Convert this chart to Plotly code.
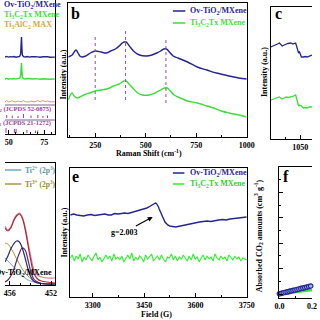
import numpy as np
import plotly.graph_objects as go

W = H = 320
def px(x): return x / W
def py(y): return 1 - y / H

NAVY = "#25258f"
GREEN = "#3ddc3d"
ORANGE = "#d9a441"
PURPLE = "#9b3f9b"
SERIF = "Liberation Serif"

# ---------------- Panel a: XRD ----------------
xrd_2theta = [47.3, 48.5, 49.8, 51.0, 52.4, 53.6, 55.0, 56.5, 57.6, 58.3, 58.6, 58.9, 59.2, 59.5,
              60.3, 61.5, 63.0, 64.5, 65.6, 67.0, 68.5, 70.4, 72.0, 74.0, 75.5, 77.2, 79.0, 80.8, 82.4]
xrd_ov = [77.0, 77.6, 76.9, 77.4, 77.1, 77.5, 76.8, 77.3, 77.6, 80.0, 88.0, 97.0, 86.0, 79.0,
          77.4, 77.0, 77.5, 76.9, 77.3, 77.0, 77.4, 77.1, 76.8, 77.3, 76.9, 77.2, 76.8, 77.1, 76.9]
xrd_mx = [55.0, 55.7, 54.8, 55.4, 55.0, 55.5, 54.9, 55.3, 55.8, 58.0, 65.0, 71.0, 64.0, 57.0,
          55.4, 55.0, 55.5, 54.9, 55.2, 55.0, 55.4, 55.1, 54.8, 55.2, 54.9, 55.1, 54.8, 55.0, 54.9]
xrd_max = [32.0, 33.5, 32.2, 32.4, 33.4, 32.2, 32.1, 33.0, 32.3, 32.2, 32.4, 32.3, 32.2, 32.4,
           33.6, 32.3, 32.2, 32.1, 33.0, 32.2, 32.3, 33.4, 32.2, 33.6, 32.2, 33.0, 32.2, 32.1, 32.3]
ref_max_pos = [48.5, 52.4, 56.5, 60.3, 65.6, 70.4, 74.0, 77.2]
ref_max_h = [3.0, 2.5, 2.0, 4.0, 2.5, 3.0, 2.0, 2.5]
ref_max_base = 16
ref_tio2_pos = [48.0, 53.9, 55.1, 62.7, 68.8, 70.3, 75.0, 82.7]
ref_tio2_h = [5.0, 4.0, 4.0, 3.0, 2.5, 2.5, 3.0, 2.0]
ref_tio2_base = 1

# ---------------- Panel b: Raman ----------------
raman_ov_x = [117, 136, 146, 155, 165, 174, 184, 203, 227, 250, 279, 303, 327, 350, 369, 384, 393, 403,
              412, 427, 445, 469, 503, 531, 555, 574, 589, 603, 617, 636, 660, 707, 755, 803, 850, 912, 960, 1000]
raman_ov_y = [80, 82, 85, 87, 84, 81, 80, 81, 84, 86, 85, 84, 86, 88, 91, 94, 95, 95,
              93, 89, 85, 82, 81, 82, 84, 86, 88, 88, 85, 81, 79, 75, 70, 67, 64, 61, 59, 58]
raman_mx_x = [117, 127, 136, 146, 160, 174, 193, 222, 250, 279, 307, 341, 369, 384, 393, 403, 417, 436,
              460, 484, 517, 546, 574, 593, 607, 622, 641, 660, 707, 755, 803, 836, 874, 912, 960, 1000]
raman_mx_y = [37, 42, 44, 41, 39, 40, 42, 44, 46, 47, 48, 51, 53, 55, 56, 56, 53, 49,
              44, 42, 42, 44, 47, 49, 49, 46, 42, 40, 36, 34, 31, 29, 26, 24, 22, 20]
raman_marks = [250, 400, 600]

# ---------------- Panel c ----------------
c_x = [1000, 1004.9, 1008.1, 1011.4, 1014.7, 1017.9, 1019.5, 1022.8, 1026.0, 1029.3, 1034.2, 1037.4,
       1042.3, 1044.0, 1045.6, 1047.2, 1048.8, 1050.5, 1052.1, 1055.4, 1058.6, 1061.9, 1065.1, 1070]
c_ov = [92, 93, 94, 95, 96, 94, 93, 94, 95, 95.5, 96, 95, 96, 92, 89, 86, 87, 85, 82, 82, 82.5, 82, 83, 84]
c_mx = [39, 40, 40.5, 41.5, 42, 40.5, 40, 41, 42, 41.5, 42, 42.5, 44, 39, 36, 33, 34, 33.5, 33, 31, 31.5, 31, 32, 32]

# ---------------- Panel d: XPS Ti 2p ----------------
d_be = [456.47, 456.19, 455.91, 455.63, 455.35, 455.07, 454.80, 454.52, 454.24, 453.96, 453.68,
        453.31, 452.94, 452.38, 451.63]
d_raw = [59, 55, 58, 65, 70, 72, 68, 58, 43, 28, 16, 10, 8, 7, 7]
d_env = [57, 54, 57, 64, 69, 71, 67, 56, 40, 24, 12, 6, 4, 3, 2]
d_navy = [23, 29, 36, 41, 44, 43, 37, 27, 16, 8, 4, 2, 1.5, 1, 1]
d_purple = [3, 5, 9, 15, 24, 32, 37, 35, 25, 13, 6, 3, 1.5, 1, 1]
d_ti3 = [42, 41, 37, 32, 26, 21, 16, 12, 9, 6, 4, 2.5, 1.5, 1, 1]
d_ti2 = [27, 24, 21, 18, 15, 12, 9, 7, 5, 4, 3, 2, 1.5, 1, 1]

# ---------------- Panel e: EPR ----------------
epr_ov_field = [3234, 3244, 3253, 3263, 3273, 3284, 3295, 3305, 3315, 3325, 3335, 3345, 3354, 3364, 3374,
                3384, 3393, 3403, 3413, 3422, 3430, 3437, 3444, 3451, 3458, 3464, 3469, 3473, 3477, 3480,
                3483, 3486, 3489, 3492, 3494, 3497, 3500, 3503, 3505, 3508, 3511, 3515, 3519, 3525, 3531,
                3537, 3542, 3549, 3556, 3563, 3570, 3580, 3589, 3600, 3612, 3623, 3634, 3645, 3657, 3668,
                3679, 3690, 3701, 3712, 3724, 3734, 3743, 3750]
epr_ov = [82, 83, 82, 81.5, 81, 82, 82.5, 81.5, 82, 83, 83, 82, 82, 83.5, 83, 83.5, 84, 83.5, 84.5, 85,
          86, 86.5, 87.5, 88, 89, 90, 91, 92, 93, 93.5, 94, 93.5, 92, 90, 88, 85.5, 83, 81, 79, 77,
          75, 73.5, 72, 71, 70.5, 70, 70, 70.5, 71, 71.5, 72.5, 73, 73.5, 74, 75, 75.5, 76, 75.5, 76.5, 77,
          77.5, 77, 78, 78.5, 79, 79.5, 80, 80]
epr_mx = [39, 42, 36, 41, 38, 43, 35, 40, 37, 42, 39, 36, 41, 44, 37, 40, 35, 39, 42, 38, 41, 36, 43, 38,
          40, 37, 41, 35, 39, 42, 38, 44, 36, 40, 37, 41, 39, 35, 42, 38, 40, 43, 36, 39, 41, 37, 42, 38,
          35, 40, 39, 43, 37, 41, 36, 40, 38, 42, 39, 36, 41, 37, 43, 38, 40, 35, 39, 42, 37, 41, 38, 40,
          36, 43, 39, 37, 41, 38, 40, 36, 42, 39, 37, 41, 38, 40, 36, 39, 38, 37]
epr_mx_field = np.linspace(3234, 3750, len(epr_mx))

# ---------------- Panel f: CO2 adsorption ----------------
f_p = [0.0, 0.012, 0.024, 0.036, 0.048, 0.06, 0.072, 0.084, 0.096, 0.108, 0.12, 0.132, 0.144, 0.156,
       0.168, 0.18, 0.192]
f_ov = [0.02, 0.06, 0.1, 0.14, 0.17, 0.21, 0.25, 0.29, 0.32, 0.36, 0.4, 0.44, 0.47, 0.51, 0.55, 0.59, 0.63]
f_mx = [0.0, 0.02, 0.04, 0.06, 0.08, 0.1, 0.12, 0.14, 0.16, 0.18, 0.2, 0.22, 0.24, 0.26, 0.28, 0.3, 0.32]
f_yticks = [0, 2, 4, 6, 8, 10]

fig = go.Figure()

def line(x, y, color, ax, width=1.4, shape="linear"):
    fig.add_trace(go.Scatter(x=x, y=y, mode="lines", line=dict(color=color, width=width, shape=shape),
                             xaxis="x" + ax, yaxis="y" + ax, showlegend=False, hoverinfo="skip"))

# a
line(xrd_2theta, xrd_ov, NAVY, "")
line(xrd_2theta, xrd_mx, GREEN, "")
line(xrd_2theta, xrd_max, ORANGE, "", 1.0)
for pos, h, base in ((ref_max_pos, ref_max_h, ref_max_base), (ref_tio2_pos, ref_tio2_h, ref_tio2_base)):
    xs, ys = [], []
    for p, hh in zip(pos, h):
        xs += [p, p, None]
        ys += [base, base + hh, None]
    line(xs, ys, PURPLE, "", 1.0)

# b
line(raman_ov_x, raman_ov_y, NAVY, "2", 1.4, "spline")
line(raman_mx_x, raman_mx_y, GREEN, "2", 1.4, "spline")
# c
line(c_x, c_ov, NAVY, "3", 1.3)
line(c_x, c_mx, GREEN, "3", 1.3)
# d
line(d_be, d_ti2, "#6fa8b8", "4", 1.0, "spline")
line(d_be, d_ti3, "#a89a3a", "4", 1.0, "spline")
line(d_be, d_purple, "#5a2a6a", "4", 1.2, "spline")
line(d_be, d_navy, "#2a2a70", "4", 1.2, "spline")
line(d_be, d_raw, "#e07a8a", "4", 1.2, "spline")
line(d_be, d_env, "#b02838", "4", 1.2, "spline")
# e
line(epr_ov_field, epr_ov, NAVY, "5", 1.4)
line(epr_mx_field, epr_mx, "#33ee33", "5", 1.1)
# f
fig.add_trace(go.Scatter(x=f_p, y=f_mx, mode="lines+markers", line=dict(color=GREEN, width=1),
                         marker=dict(color=GREEN, size=3), xaxis="x6", yaxis="y6", showlegend=False))
fig.add_trace(go.Scatter(x=f_p, y=f_ov, mode="markers",
                         marker=dict(symbol="circle", color="#9fb0ff", size=4.5, line=dict(color=NAVY, width=1.2)),
                         xaxis="x6", yaxis="y6", showlegend=False, cliponaxis=False))
# f y tick labels as a text trace on the panel's own axes, left of the axis line
fig.add_trace(go.Scatter(x=[-0.012] * len(f_yticks), y=f_yticks, mode="text",
                         text=[str(v) for v in f_yticks], textposition="middle left",
                         textfont=dict(family=SERIF, size=8, color="black", weight="bold"),
                         xaxis="x6", yaxis="y6", showlegend=False, cliponaxis=False, hoverinfo="skip"))

TF = dict(family=SERIF, size=8, color="black", weight="bold")

def axis(domain, rng, anchor, **kw):
    d = dict(domain=domain, range=rng, anchor=anchor, showgrid=False, zeroline=False, showline=True,
             linecolor="black", linewidth=1, ticks="inside", ticklen=4, tickwidth=1, tickcolor="black",
             tickfont=TF)
    d.update(kw)
    return d

noy = dict(ticks="", showticklabels=False)
minor = lambda dt: dict(dtick=dt, ticks="inside", ticklen=2, tickcolor="black")

fig.update_layout(
    width=W, height=H, autosize=False, margin=dict(l=0, r=0, t=0, b=0),
    paper_bgcolor="white", plot_bgcolor="white",
    xaxis=axis([0, px(52)], [47.3, 82.4], "y", tick0=0, dtick=25, minor=minor(5)),
    yaxis=axis([py(134), 1], [0, 134], "x", side="right", **noy),
    xaxis2=axis([px(66), px(252)], [117, 1000], "y2", tick0=0, dtick=250, mirror=True, minor=minor(125)),
    yaxis2=axis([py(137), py(3)], [0, 134], "x2", mirror=True, **noy),
    xaxis3=axis([px(277), 1], [1000, 1070], "y3", tick0=1050, dtick=100, mirror=True, minor=minor(25)),
    yaxis3=axis([py(139), py(7)], [0, 132], "x3", **noy),
    xaxis4=axis([0, px(52)], [456.47, 451.63], "y4", tick0=452, dtick=4, mirror=True, minor=minor(1)),
    yaxis4=axis([py(285), py(163)], [0, 122], "x4", side="right", **noy),
    xaxis5=axis([px(68), px(252)], [3234, 3750], "y5", tick0=3300, dtick=150, mirror=True, minor=minor(75)),
    yaxis5=axis([py(297), py(168)], [0, 129], "x5", mirror=True, **noy),
    xaxis6=axis([px(286), 1], [0, 0.2], "y6", tick0=0, dtick=0.2, tickformat=".1f", mirror=True, minor=minor(0.1)),
    yaxis6=axis([py(298), py(167)], [-0.31, 10], "x6", tickmode="array", tickvals=f_yticks,
                showticklabels=False, minor=minor(1)),
)

shapes = []
# panel a dividers
for v in (29, 14):
    shapes.append(dict(type="line", xref="x domain", yref="y", x0=0, x1=1, y0=v, y1=v,
                       line=dict(color="#7f5f8f", width=1)))
# Raman dotted markers
for m, lo, hi in zip(raman_marks, [37, 37, 34], [102, 107, 100]):
    shapes.append(dict(type="line", xref="x2", yref="y2", x0=m, x1=m, y0=lo, y1=hi,
                       line=dict(color="#9b5fa0", width=1.1, dash="dot")))
# legend sample lines
def seg(x0, x1, y, color):
    shapes.append(dict(type="line", xref="paper", yref="paper", x0=px(x0), x1=px(x1), y0=py(y), y1=py(y),
                       line=dict(color=color, width=1.5)))
seg(175, 188, 11, NAVY)
seg(175, 188, 23, GREEN)
seg(175, 187, 173, NAVY)
seg(175, 187, 184, "#33ee33")
seg(0, 17, 170, "#6fa8b8")
seg(0, 17, 184, "#a89a3a")
fig.update_layout(shapes=shapes)

ann = []
def text(x, y, s, color="black", size=8, xanchor="left", angle=0, weight="bold"):
    ann.append(dict(xref="paper", yref="paper", x=px(x), y=py(y), text=s, showarrow=False,
                    xanchor=xanchor, yanchor="middle", textangle=angle,
                    font=dict(family=SERIF, size=size, color=color, weight=weight)))

# panel a texts
text(-3, 5, "Ov-TiO<sub>2</sub>/MXene", NAVY, 8)
text(-3, 15, "Ti<sub>3</sub>C<sub>2</sub>Tx MXene", GREEN, 8)
text(-3, 25, "Ti<sub>3</sub>AlC<sub>2</sub> MAX", ORANGE, 8)
text(50, 109, "Ti<sub>3</sub>AlC<sub>2</sub> (JCPDS 52-0875)", PURPLE, 6.5, "right")
text(50, 123, "TiO<sub>2</sub> (JCPDS 21-1272)", PURPLE, 6.5, "right")
# panel b
text(67, 13, "b", size=16)
text(60, 75, "Intensity (a.u.)", angle=-90, xanchor="center")
text(150, 153, "Raman Shift (cm<sup>-1</sup>)", xanchor="center")
text(191, 11, "Ov-TiO<sub>2</sub>/MXene", NAVY, 8)
text(191, 23, "Ti<sub>3</sub>C<sub>2</sub>Tx MXene", GREEN, 8)
# panel c
text(279, 13, "c", size=16)
text(270, 72, "Intensity (a.u.)", angle=-90, xanchor="center")
# panel d
text(19, 170, "Ti<sup>2+</sup> (2p<sup>3</sup>)", "#5a98a8", 7.5)
text(19, 184, "Ti<sup>3+</sup> (2p<sup>3</sup>)", "#988a2a", 7.5)
text(51, 273, "Ov-TiO<sub>2</sub>/MXene", "black", 8, "right")
# panel e
text(68, 176, "e", size=16)
text(61, 233, "Intensity (a.u.)", angle=-90, xanchor="center")
text(158, 314, "Field (G)", xanchor="center")
text(191, 173, "Ov-TiO<sub>2</sub>/MXene", NAVY, 8)
text(191, 184, "Ti<sub>3</sub>C<sub>2</sub>Tx MXene", "#33cc33", 8)
ann.append(dict(xref="x5", yref="y5", x=3475, y=80, text="g=2.003", showarrow=True, ax=-28, ay=15,
                arrowhead=2, arrowsize=0.9, arrowwidth=1.1, arrowcolor="black",
                font=dict(family=SERIF, size=8, color="black", weight="bold")))
# panel f
text(288, 176, "f", size=16)
text(264, 236, "Absorbed CO<sub>2</sub> amounts (cm<sup>3</sup> g<sup>-1</sup>)", angle=-90, xanchor="center")
fig.update_layout(annotations=ann)

fig.write_html("out.html",
               post_script="document.documentElement.style.overflow='hidden';"
                           "document.body.style.overflow='hidden';window.scrollTo(0,0);")
